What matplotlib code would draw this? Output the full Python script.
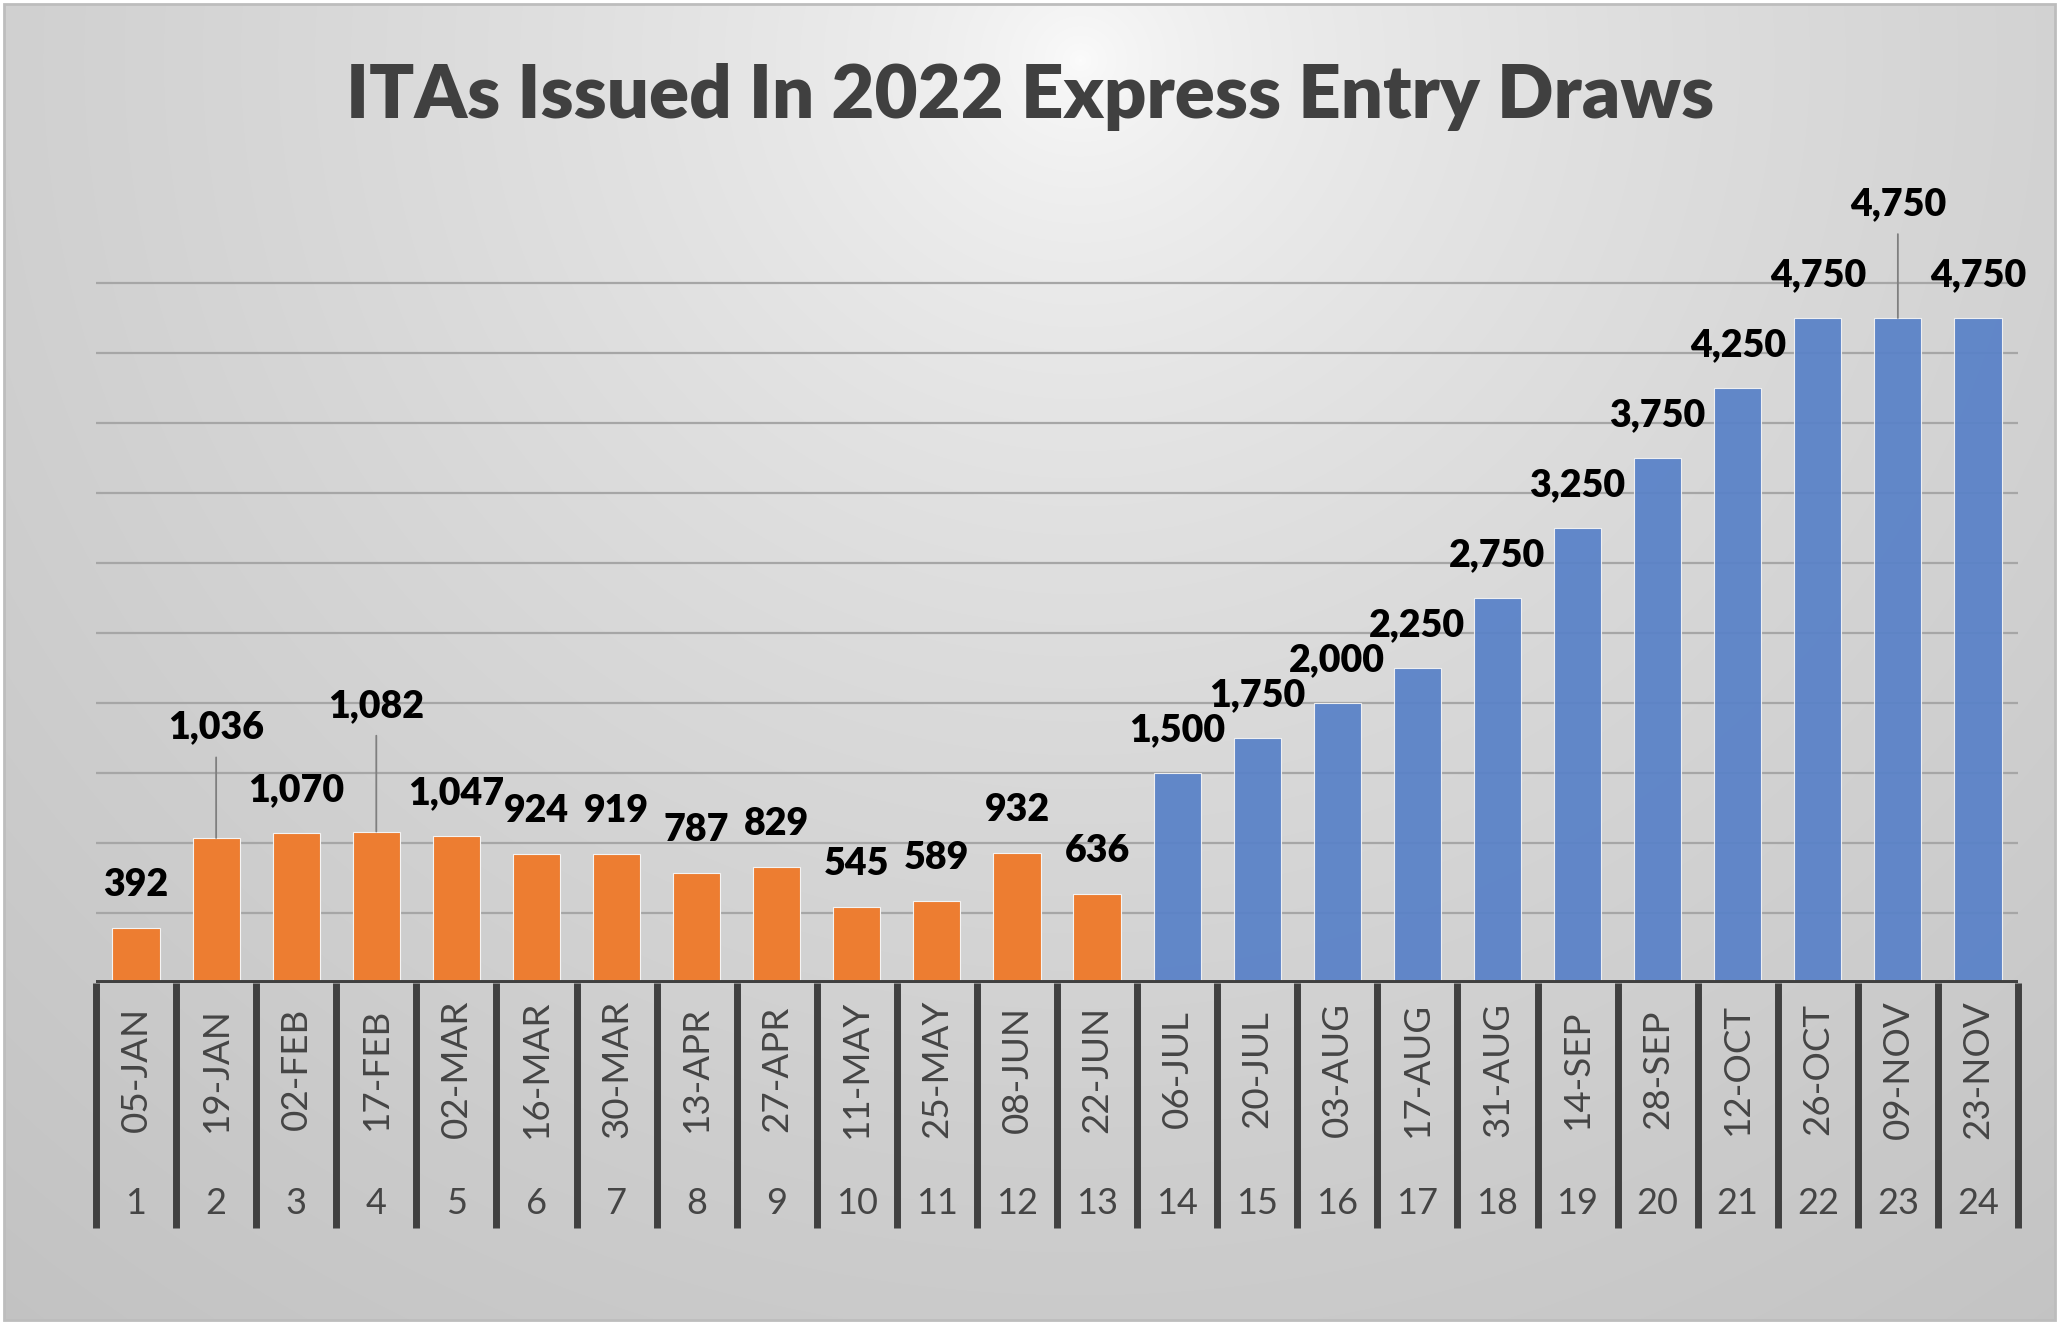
import matplotlib.pyplot as plt
import numpy as np
from matplotlib.patches import Rectangle

plt.rcParams['font.family'] = ['Lato', 'DejaVu Sans']

# draw data
draw_no = list(range(1, 25))
draw_date = ['05-JAN', '19-JAN', '02-FEB', '17-FEB', '02-MAR', '16-MAR', '30-MAR',
             '13-APR', '27-APR', '11-MAY', '25-MAY', '08-JUN', '22-JUN', '06-JUL',
             '20-JUL', '03-AUG', '17-AUG', '31-AUG', '14-SEP', '28-SEP', '12-OCT',
             '26-OCT', '09-NOV', '23-NOV']
itas = [392, 1036, 1070, 1082, 1047, 924, 919, 787, 829, 545, 589, 932, 636,
        1500, 1750, 2000, 2250, 2750, 3250, 3750, 4250, 4750, 4750, 4750]
n_paused = 13  # first 13 draws drawn in orange

W, H = 2062, 1329
fig = plt.figure(figsize=(W / 100, H / 100), dpi=100)

# background: soft radial gray gradient inside a thin frame
bg = fig.add_axes([0, 0, 1, 1])
yy, xx = np.mgrid[0:H, 0:W]
d = np.sqrt((xx - 1080.0) ** 2 + ((yy - 60.0) * 1.05) ** 2)
gray = (252 - 0.74 * d ** 0.585) / 255.0
img = np.dstack([gray, gray, gray])
outside = (xx < 4) | (xx > W - 7) | (yy < 4) | (yy > H - 9)
img[outside] = 1.0
bg.imshow(img, extent=[0, W, H, 0], aspect='auto', interpolation='bilinear')
bg.add_patch(Rectangle((4, 4), W - 11, H - 13, fill=False, ec='#bdbdbd', lw=2))
bg.set_xlim(0, W)
bg.set_ylim(H, 0)
bg.axis('off')

# main plot area
x0, x1 = 96, 2018
y_zero, y_top = 983, 213
ax = fig.add_axes([x0 / W, 1 - y_zero / H, (x1 - x0) / W, (y_zero - y_top) / H])
ax.patch.set_alpha(0)
ax.set_xlim(-0.5, len(itas) - 0.5)
ax.set_ylim(0, 5500)

x = np.arange(len(itas))
colors = ['#ED7D31' if i < n_paused else '#5A82C8' for i in range(len(itas))]
bars = ax.bar(x, itas, width=0.59, color=colors, edgecolor='#f4f4f4', linewidth=0.8, zorder=2)
for b in bars[n_paused:]:
    b.set_alpha(0.94)

ax.set_yticks(np.arange(500, 5001, 500))
ax.yaxis.grid(True, color='#a6a6a6', lw=1.6)
ax.set_axisbelow(True)
ax.tick_params(left=False, bottom=False, labelleft=False, labelbottom=False)
for s in ax.spines.values():
    s.set_visible(False)

# baseline and category dividers
ax.axhline(0, color='#404040', lw=5, zorder=4)
tr = ax.get_xaxis_transform()
for i in range(len(itas) + 1):
    ax.plot([i - 0.5, i - 0.5], [0, -0.318], transform=tr, clip_on=False,
            color='#404040', lw=5, solid_capstyle='butt', zorder=4)

for i in range(len(itas)):
    ax.text(i, -0.112, draw_date[i], transform=tr, rotation=90, ha='center', va='center',
            fontsize=26.5, color='#454545')
    ax.text(i, -0.287, str(draw_no[i]), transform=tr, ha='center', va='center',
            fontsize=26, color='#454545')

# value labels (some lifted with a leader line)
lifted = {1: 71.6, 3: 82.6, 22: 74.0}
for i, v in enumerate(itas):
    off = lifted.get(i, 23.0)
    ax.annotate(f'{v:,}', (i, v), xytext=(0, off), textcoords='offset points',
                ha='center', va='baseline', fontsize=27, fontweight='heavy', color='black',
                annotation_clip=False)
    if i in lifted:
        ax.annotate('', xy=(i, v), xytext=(0, off - 13.6), textcoords='offset points',
                    arrowprops=dict(arrowstyle='-', color='#7f7f7f', lw=1.3,
                                    shrinkA=0, shrinkB=0))

fig.text(1030 / W, 1 - 118 / H, 'ITAs Issued In 2022 Express Entry Draws',
         ha='center', va='baseline', fontsize=53.5, fontweight='heavy', color='#404040')

fig.savefig('out.png', dpi=100)
